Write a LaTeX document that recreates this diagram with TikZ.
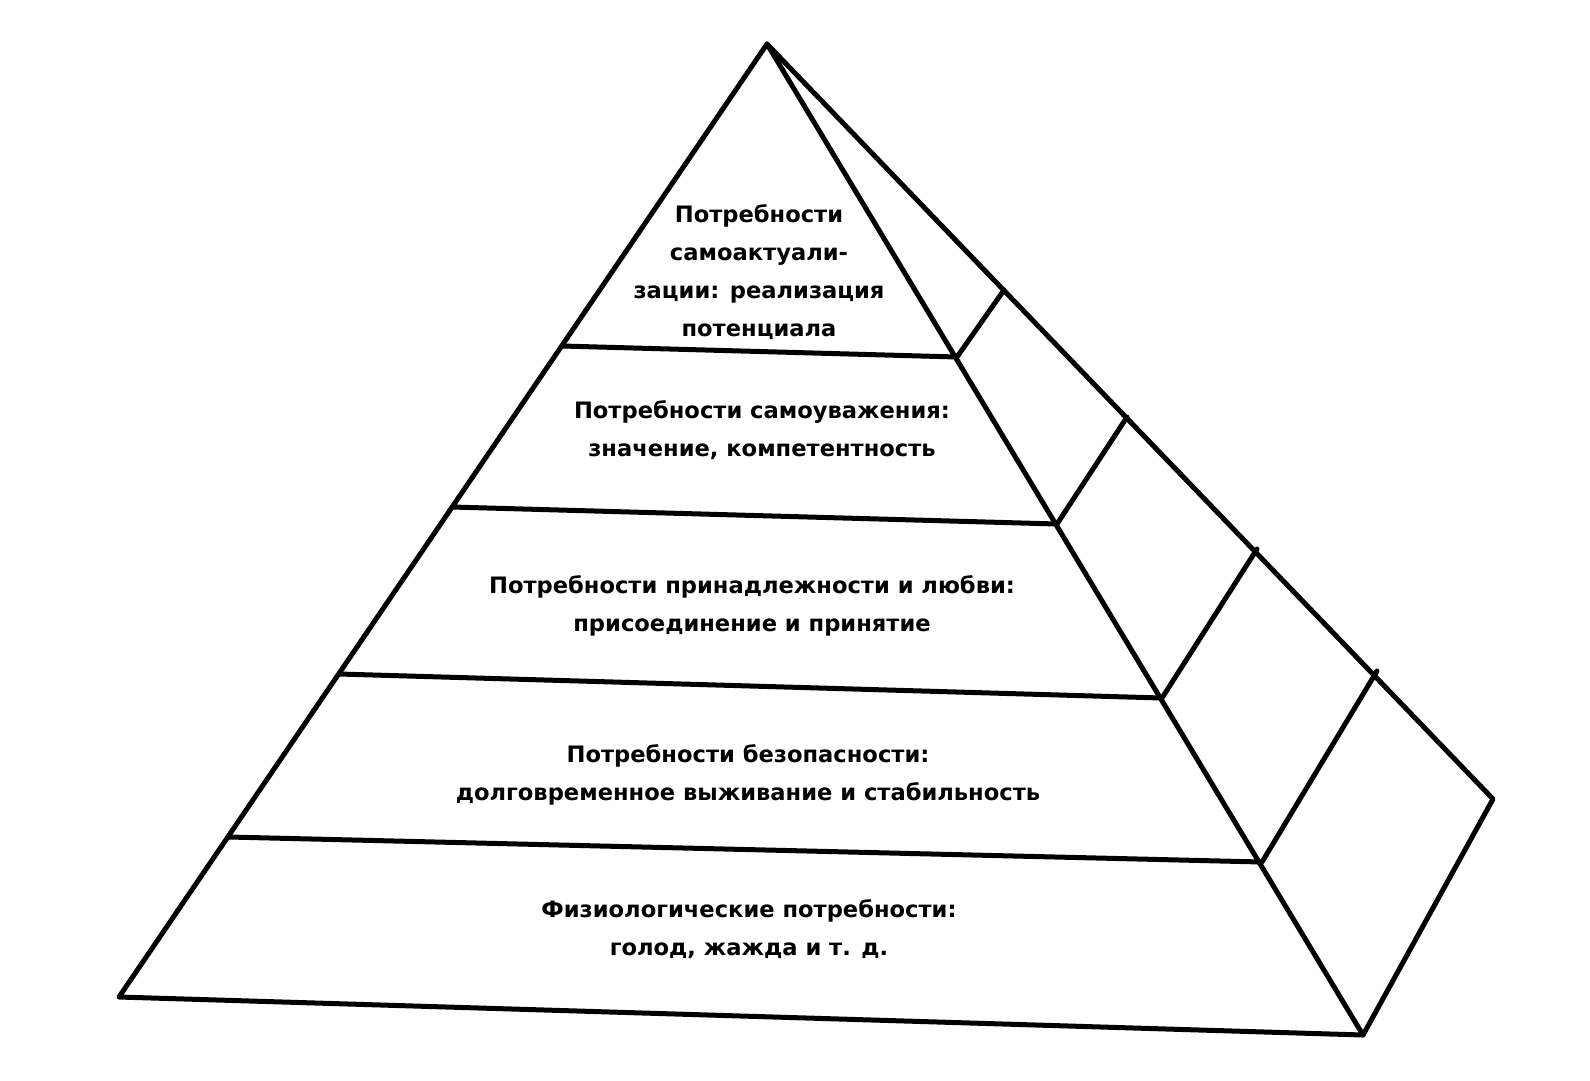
\documentclass[tikz,border=0pt]{standalone}
\usepackage{fontspec}
\setmainfont{DejaVu Sans}
\begin{document}
\begin{tikzpicture}[x=1pt,y=-1pt,
  edge/.style={line width=5pt,line join=round,line cap=round},
  lbl/.style={font=\bfseries\fontsize{22.6}{38}\selectfont,align=center,inner sep=0pt}]
\useasboundingbox (0,0) rectangle (1590,1080);
\coordinate (A) at (767,44);
\coordinate (L) at (119,997);
\coordinate (F) at (1363,1035);
\coordinate (B) at (1493,799);
\coordinate (L1) at (562,346);
\coordinate (L2) at (452,507);
\coordinate (L3) at (339,674);
\coordinate (L4) at (229,837);
\coordinate (F1) at (957,357);
\coordinate (F2) at (1057,524);
\coordinate (F3) at (1162,698);
\coordinate (F4) at (1262,862);
\coordinate (B1) at (1004,290);
\coordinate (B2) at (1127,417);
\coordinate (B3) at (1257,549);
\coordinate (B4) at (1377,671);
\draw[edge] (A) -- (L) -- (F) -- (B) -- cycle;
\draw[edge] (A) -- (F);
\foreach \i in {1,2,3,4}{
  \draw[edge] (L\i) -- (F\i) -- (B\i);
}
\node[lbl] (t1) at (759,272) {Потребности\\самоактуали-\\зации: реализация\\потенциала};
\node[lbl] (t2) at (762,430) {Потребности самоуважения:\\значение, компетентность};
\node[lbl] (t3) at (752,606) {Потребности принадлежности и любви:\\присоединение и принятие};
\node[lbl] (t4) at (748,775) {Потребности безопасности:\\долговременное выживание и стабильность};
\node[lbl] (t5) at (749,929) {Физиологические потребности:\\голод, жажда и т. д.};
\end{tikzpicture}
\end{document}
